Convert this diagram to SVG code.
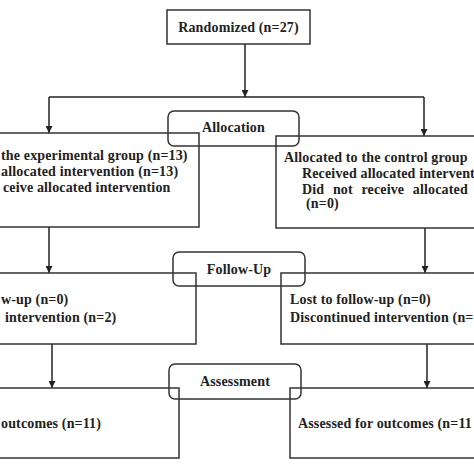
<svg xmlns="http://www.w3.org/2000/svg" width="474" height="474" viewBox="0 0 474 474">
<defs>
<marker id="ah" viewBox="0 0 10 10" refX="10" refY="5" markerWidth="7" markerHeight="7" orient="auto" markerUnits="userSpaceOnUse">
<path d="M0,0 L10,5 L0,10 z" fill="#222"/>
</marker>
<style>
.box{fill:none;stroke:#333;stroke-width:1.5}
.lbl{fill:none;stroke:#333;stroke-width:1.5}
.t{font-family:"Liberation Serif","Times New Roman",serif;font-weight:bold;font-size:14px;fill:#222;letter-spacing:0.15px}
.c{text-anchor:middle}
.ln{fill:none;stroke:#222;stroke-width:1.5}
</style>
</defs>
<rect width="474" height="474" fill="#fff"/>
<g id="connectors">
<path class="ln" d="M245,44 V97" marker-end="url(#ah)"/>
<path class="ln" d="M49,97 H424"/>
<path class="ln" d="M49,97 V133" marker-end="url(#ah)"/>
<path class="ln" d="M424,97 V136" marker-end="url(#ah)"/>
<path class="ln" d="M49,227 V273" marker-end="url(#ah)"/>
<path class="ln" d="M425,228 V273" marker-end="url(#ah)"/>
<path class="ln" d="M52,344 V388" marker-end="url(#ah)"/>
<path class="ln" d="M427,344 V388" marker-end="url(#ah)"/>
</g>
<g id="randomized">
<rect class="box" x="167" y="10" width="143" height="34"/>
<text class="t c" x="238.5" y="32">Randomized (n=27)</text>
</g>
<g id="allocation">
<rect class="lbl" x="168" y="111" width="131" height="35" rx="6"/>
<text class="t c" x="233.5" y="132">Allocation</text>
</g>
<g id="exp-allocation">
<rect class="box" x="-5" y="133" width="204" height="94"/>
<text class="t" x="1" y="160">the experimental group (n=13)</text>
<text class="t" x="1" y="176">allocated intervention (n=13)</text>
<text class="t" x="3" y="192">ceive allocated intervention</text>
</g>
<g id="ctl-allocation">
<rect class="box" x="276" y="136" width="205" height="92"/>
<text class="t" x="284" y="162">Allocated to the control group</text>
<text class="t" x="302" y="178">Received allocated intervent</text>
<text class="t" x="302" y="194" word-spacing="5">Did not receive allocated</text>
<text class="t" x="306" y="208">(n=0)</text>
</g>
<g id="followup">
<rect class="lbl" x="173" y="252" width="132" height="34" rx="6"/>
<text class="t c" x="239" y="274">Follow-Up</text>
</g>
<g id="exp-followup">
<rect class="box" x="-5" y="273" width="201" height="71"/>
<text class="t" x="1" y="304">w-up (n=0)</text>
<text class="t" x="5" y="322">intervention (n=2)</text>
</g>
<g id="ctl-followup">
<rect class="box" x="281" y="273" width="200" height="71"/>
<text class="t" x="290" y="304">Lost to follow-up  (n=0)</text>
<text class="t" x="290" y="322">Discontinued intervention (n=</text>
</g>
<g id="assessment">
<rect class="lbl" x="169" y="364" width="132" height="35" rx="6"/>
<text class="t c" x="235" y="386">Assessment</text>
</g>
<g id="exp-assessment">
<rect class="box" x="-5" y="388" width="184" height="70"/>
<text class="t" x="1" y="428">outcomes (n=11)</text>
</g>
<g id="ctl-assessment">
<rect class="box" x="290" y="388" width="191" height="70"/>
<text class="t" x="298" y="428">Assessed for outcomes (n=11</text>
</g>
</svg>
